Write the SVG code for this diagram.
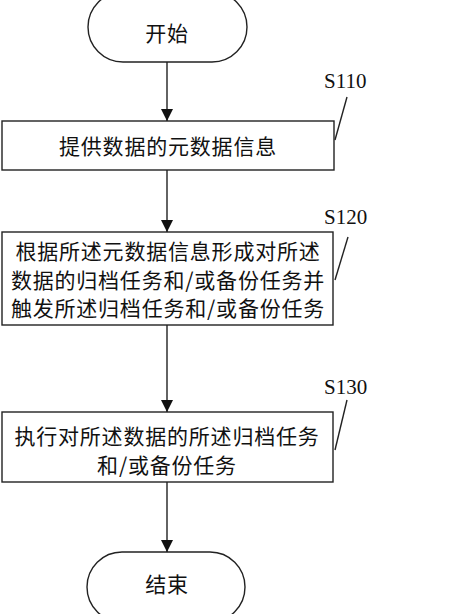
<svg xmlns="http://www.w3.org/2000/svg" width="474" height="614" viewBox="0 0 474 614">
<style>
.shape{fill:#fff;stroke:#222;stroke-width:1.4}
.t{font-family:"Noto Sans CJK SC","Noto Sans",sans-serif;font-size:21px;fill:#111;text-anchor:middle;dominant-baseline:central;letter-spacing:0.8px}
.lbl{font-family:"Liberation Serif",serif;font-size:21px;fill:#111}
.ln{stroke:#222;stroke-width:1.4;fill:none}
</style>
<defs>
<marker id="arr" markerWidth="12" markerHeight="12" refX="12" refY="6" orient="auto" markerUnits="userSpaceOnUse" viewBox="0 0 12 12">
<path d="M0,0 L12,6 L0,12 Z" fill="#111"/>
</marker>
</defs>
<rect width="474" height="614" fill="#fff"/>
<g id="start">
<rect class="shape" x="88" y="-8" width="159" height="70" rx="35" ry="35"/>
<text class="t" x="167" y="32">开始</text>
</g>
<g id="s110">
<rect class="shape" x="2" y="121" width="332" height="49"/>
<text class="t" x="168" y="145">提供数据的元数据信息</text>
<text class="lbl" x="324" y="88">S110</text>
<line class="ln" x1="347" y1="97" x2="335" y2="140"/>
</g>
<g id="s120">
<rect class="shape" x="2" y="232" width="331" height="93"/>
<text class="t" x="168" y="250">根据所述元数据信息形成对所述</text>
<text class="t" x="168" y="279">数据的归档任务和/或备份任务并</text>
<text class="t" x="168" y="307">触发所述归档任务和/或备份任务</text>
<text class="lbl" x="324" y="224">S120</text>
<line class="ln" x1="348" y1="237" x2="335" y2="280"/>
</g>
<g id="s130">
<rect class="shape" x="2" y="412" width="331" height="70"/>
<text class="t" x="167" y="435">执行对所述数据的所述归档任务</text>
<text class="t" x="167" y="464">和/或备份任务</text>
<text class="lbl" x="324" y="394">S130</text>
<line class="ln" x1="347" y1="400" x2="335" y2="450"/>
</g>
<g id="end">
<rect class="shape" x="87" y="552" width="158" height="70" rx="35" ry="35"/>
<text class="t" x="167" y="583">结束</text>
</g>
<g id="connectors">
<line class="ln" x1="167" y1="62" x2="167" y2="121" marker-end="url(#arr)"/>
<line class="ln" x1="167" y1="170" x2="167" y2="232" marker-end="url(#arr)"/>
<line class="ln" x1="167" y1="325" x2="167" y2="412" marker-end="url(#arr)"/>
<line class="ln" x1="167" y1="482" x2="167" y2="552" marker-end="url(#arr)"/>
</g>
</svg>
